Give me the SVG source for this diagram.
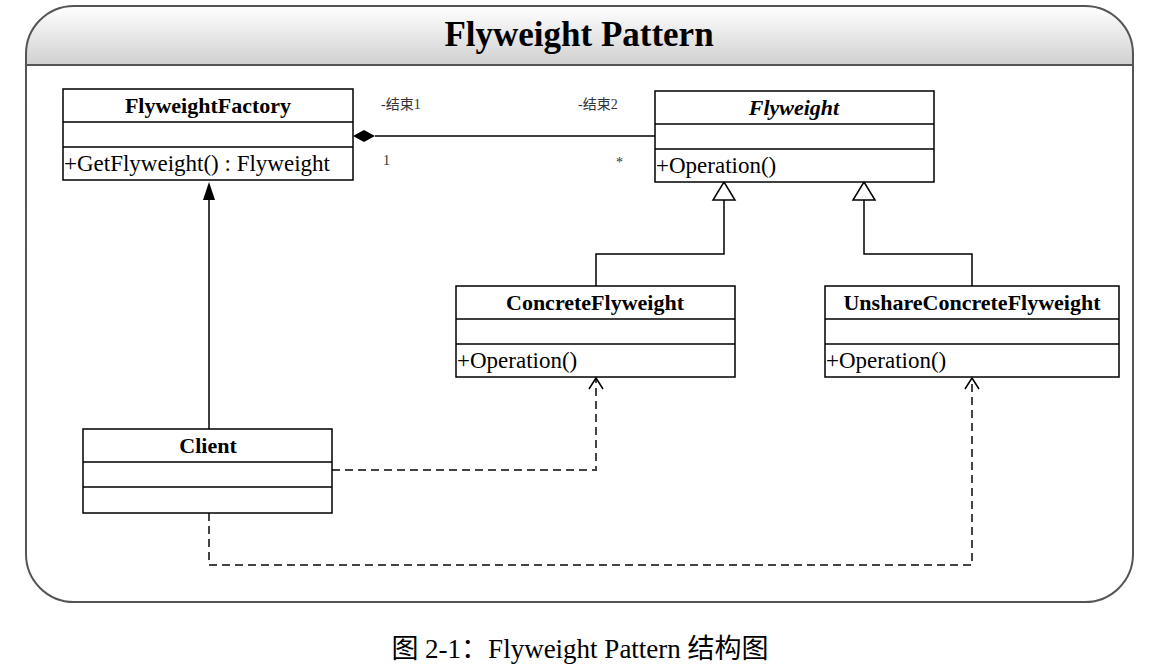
<svg xmlns="http://www.w3.org/2000/svg" width="1163" height="672" viewBox="0 0 1163 672">
<style>
.b{fill:#fff;stroke:#000;stroke-width:1.5}
.l{stroke:#000;stroke-width:1.5;fill:none}
.d{stroke:#444;stroke-width:2;fill:none;stroke-dasharray:8,5}
.t{font-family:"Liberation Serif","Noto Sans CJK SC",serif;font-size:23px;fill:#000}
.h{font-weight:bold;text-anchor:middle;font-size:22px}
.s{font-family:"Liberation Serif","Noto Sans CJK SC",serif;font-size:14px;fill:#333}
</style>
<defs>
<linearGradient id="g" x1="0" y1="0" x2="0" y2="1"><stop offset="0" stop-color="#fff"/><stop offset="1" stop-color="#d0d0d0"/></linearGradient>
<clipPath id="c"><rect x="26" y="6" width="1107" height="596" rx="48"/></clipPath>
</defs>
<g id="frame">
<rect x="26" y="6" width="1107" height="59" fill="url(#g)" clip-path="url(#c)"/>
<rect x="26" y="6" width="1107" height="596" rx="48" fill="none" stroke="#555" stroke-width="2"/>
<line x1="26" y1="65" x2="1133" y2="65" stroke="#555" stroke-width="2"/>
<text x="579" y="46" class="t" style="font-size:35px;font-weight:bold;text-anchor:middle">Flyweight Pattern</text>
</g>
<g id="connectors">
<line x1="375" y1="136" x2="655" y2="136" class="l"/>
<path d="M353,136 L364,130 L375,136 L364,142 Z" fill="#000"/>
<text x="381" y="109" class="s">-结束1</text>
<text x="578" y="109" class="s">-结束2</text>
<text x="383" y="165" class="s">1</text>
<text x="616" y="167" class="s">*</text>
<path d="M724,200 V254 H596 V286" class="l"/>
<path d="M724,182 L735,200 L713,200 Z" fill="#fff" stroke="#000" stroke-width="1.5"/>
<path d="M864,200 V254 H972 V286" class="l"/>
<path d="M864,182 L875,200 L853,200 Z" fill="#fff" stroke="#000" stroke-width="1.5"/>
<line x1="209" y1="429" x2="209" y2="198" class="l"/>
<path d="M209,182 L215,200 L203,200 Z" fill="#000"/>
<path d="M332,470 H596 V378" class="d"/>
<path d="M589,389 L596,378 L603,389" class="l"/>
<path d="M209,513 V565 H972 V378" class="d"/>
<path d="M965,389 L972,378 L979,389" class="l"/>
</g>
<g id="FlyweightFactory">
<rect x="63" y="89" width="290" height="91" class="b"/>
<path d="M63,122 H353 M63,147 H353" class="l"/>
<text x="208" y="113" class="t h">FlyweightFactory</text>
<text x="64" y="171" class="t">+GetFlyweight() : Flyweight</text>
</g>
<g id="Flyweight">
<rect x="655" y="91" width="279" height="91" class="b"/>
<path d="M655,124 H934 M655,149 H934" class="l"/>
<text x="794" y="115" class="t h" style="font-style:italic">Flyweight</text>
<text x="656" y="173" class="t">+Operation()</text>
</g>
<g id="ConcreteFlyweight">
<rect x="456" y="286" width="279" height="91" class="b"/>
<path d="M456,319 H735 M456,344 H735" class="l"/>
<text x="595" y="310" class="t h">ConcreteFlyweight</text>
<text x="457" y="368" class="t">+Operation()</text>
</g>
<g id="UnshareConcreteFlyweight">
<rect x="825" y="286" width="294" height="91" class="b"/>
<path d="M825,319 H1119 M825,344 H1119" class="l"/>
<text x="972" y="310" class="t h">UnshareConcreteFlyweight</text>
<text x="826" y="368" class="t">+Operation()</text>
</g>
<g id="Client">
<rect x="83" y="429" width="249" height="84" class="b"/>
<path d="M83,462 H332 M83,487 H332" class="l"/>
<text x="208" y="453" class="t h">Client</text>
</g>
<text x="580" y="658" class="t" style="font-size:27px;text-anchor:middle">图 2-1：Flyweight Pattern 结构图</text>
</svg>
